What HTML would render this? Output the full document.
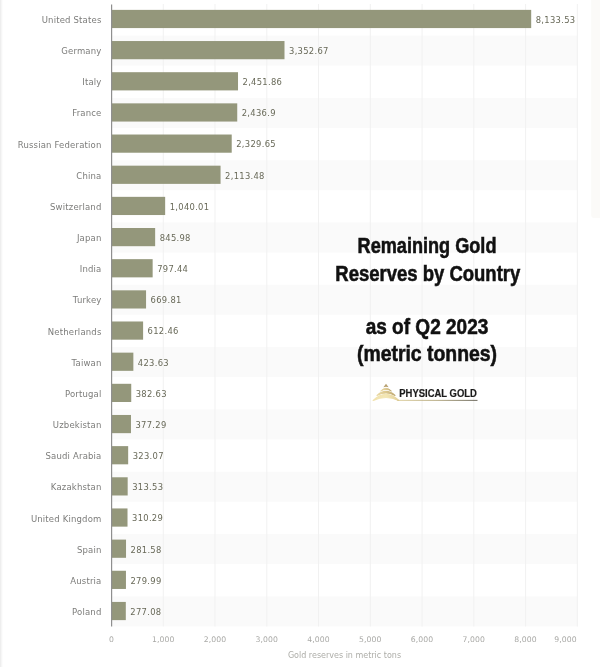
<!DOCTYPE html>
<html lang="en">
<head>
<meta charset="utf-8">
<title>Remaining Gold Reserves by Country</title>
<style>
html,body{margin:0;padding:0;background:#fff;}
body{width:600px;height:667px;overflow:hidden;position:relative;}
svg{display:block;position:absolute;left:0;top:0;}
.cat{font-family:"DejaVu Sans","Liberation Sans",sans-serif;font-size:8.5px;letter-spacing:0.17px;fill:#7c7c7a;text-anchor:end;}
.val{font-family:"DejaVu Sans","Liberation Sans",sans-serif;font-size:8.4px;letter-spacing:0.3px;fill:#686958;}
.tick{font-family:"DejaVu Sans","Liberation Sans",sans-serif;font-size:7.7px;letter-spacing:0.1px;fill:#a9a9a6;text-anchor:middle;}
.axt{font-family:"DejaVu Sans","Liberation Sans",sans-serif;font-size:8px;fill:#adada8;text-anchor:middle;}
.ttl{font-family:"Liberation Sans",sans-serif;font-weight:bold;font-size:21.5px;fill:#111;stroke:#111;stroke-width:0.55px;text-anchor:middle;}
.logo{font-family:"Liberation Sans",sans-serif;font-weight:bold;font-size:10.2px;fill:#1a1a1a;stroke:#1a1a1a;stroke-width:0.2px;}
</style>
</head>
<body>
<svg width="600" height="667" viewBox="0 0 600 667">
<defs>
<linearGradient id="gold" x1="0" y1="0" x2="1" y2="0">
<stop offset="0" stop-color="#f1e2ae"/><stop offset="0.5" stop-color="#f3e6b4"/><stop offset="1" stop-color="#e3d09a"/>
</linearGradient>
<linearGradient id="gold2" x1="0" y1="0" x2="1" y2="0">
<stop offset="0" stop-color="#ead9a4"/><stop offset="0.5" stop-color="#dcc88f"/><stop offset="1" stop-color="#bfa872"/>
</linearGradient>
<linearGradient id="uline" x1="0" y1="0" x2="1" y2="0">
<stop offset="0" stop-color="#d9c88e"/><stop offset="0.5" stop-color="#a89a6a"/><stop offset="1" stop-color="#4a4638"/>
</linearGradient>
</defs>
<rect x="0" y="0" width="600" height="667" fill="#ffffff"/>
<path d="M591.2 0 H600 V218 H594 Q591.2 218 591.2 215 Z" fill="#fbfaf8"/>
<rect x="0" y="0" width="1" height="667" fill="#eeeeee"/>
<rect x="1" y="0" width="1" height="667" fill="#f6f6f6"/>
<rect x="2" y="0" width="1" height="667" fill="#fcfcfc"/>

<rect x="112" y="35.54" width="465.8" height="30" fill="#fafafa"/>
<rect x="112" y="97.86" width="465.8" height="30" fill="#fafafa"/>
<rect x="112" y="160.18" width="465.8" height="30" fill="#fafafa"/>
<rect x="112" y="222.50" width="465.8" height="30" fill="#fafafa"/>
<rect x="112" y="284.82" width="465.8" height="30" fill="#fafafa"/>
<rect x="112" y="347.14" width="465.8" height="30" fill="#fafafa"/>
<rect x="112" y="409.46" width="465.8" height="30" fill="#fafafa"/>
<rect x="112" y="471.78" width="465.8" height="30" fill="#fafafa"/>
<rect x="112" y="534.10" width="465.8" height="30" fill="#fafafa"/>
<rect x="112" y="596.42" width="465.8" height="30" fill="#fafafa"/>
<rect x="162.76" y="4" width="1" height="622.5" fill="#f1f1f1"/>
<rect x="214.52" y="4" width="1" height="622.5" fill="#f1f1f1"/>
<rect x="266.28" y="4" width="1" height="622.5" fill="#f1f1f1"/>
<rect x="318.04" y="4" width="1" height="622.5" fill="#f1f1f1"/>
<rect x="369.80" y="4" width="1" height="622.5" fill="#f1f1f1"/>
<rect x="421.56" y="4" width="1" height="622.5" fill="#f1f1f1"/>
<rect x="473.32" y="4" width="1" height="622.5" fill="#f1f1f1"/>
<rect x="525.08" y="4" width="1" height="622.5" fill="#f1f1f1"/>
<rect x="576.84" y="4" width="1" height="622.5" fill="#f1f1f1"/>
<rect x="112" y="9.88" width="419.19" height="18.2" fill="#94977b"/>
<text class="cat" x="101.5" y="22.98">United States</text>
<text class="val" x="535.69" y="22.78">8,133.53</text>
<rect x="112" y="41.04" width="172.50" height="18.2" fill="#94977b"/>
<text class="cat" x="101.5" y="54.14">Germany</text>
<text class="val" x="289.00" y="53.94">3,352.67</text>
<rect x="112" y="72.20" width="126.02" height="18.2" fill="#94977b"/>
<text class="cat" x="101.5" y="85.30">Italy</text>
<text class="val" x="242.52" y="85.10">2,451.86</text>
<rect x="112" y="103.36" width="125.24" height="18.2" fill="#94977b"/>
<text class="cat" x="101.5" y="116.46">France</text>
<text class="val" x="241.74" y="116.26">2,436.9</text>
<rect x="112" y="134.52" width="119.71" height="18.2" fill="#94977b"/>
<text class="cat" x="101.5" y="147.62">Russian Federation</text>
<text class="val" x="236.21" y="147.42">2,329.65</text>
<rect x="112" y="165.68" width="108.56" height="18.2" fill="#94977b"/>
<text class="cat" x="101.5" y="178.78">China</text>
<text class="val" x="225.06" y="178.58">2,113.48</text>
<rect x="112" y="196.84" width="53.16" height="18.2" fill="#94977b"/>
<text class="cat" x="101.5" y="209.94">Switzerland</text>
<text class="val" x="169.66" y="209.74">1,040.01</text>
<rect x="112" y="228.00" width="43.15" height="18.2" fill="#94977b"/>
<text class="cat" x="101.5" y="241.10">Japan</text>
<text class="val" x="159.65" y="240.90">845.98</text>
<rect x="112" y="259.16" width="40.65" height="18.2" fill="#94977b"/>
<text class="cat" x="101.5" y="272.26">India</text>
<text class="val" x="157.15" y="272.06">797.44</text>
<rect x="112" y="290.32" width="34.06" height="18.2" fill="#94977b"/>
<text class="cat" x="101.5" y="303.42">Turkey</text>
<text class="val" x="150.56" y="303.22">669.81</text>
<rect x="112" y="321.48" width="31.10" height="18.2" fill="#94977b"/>
<text class="cat" x="101.5" y="334.58">Netherlands</text>
<text class="val" x="147.60" y="334.38">612.46</text>
<rect x="112" y="352.64" width="21.36" height="18.2" fill="#94977b"/>
<text class="cat" x="101.5" y="365.74">Taiwan</text>
<text class="val" x="137.86" y="365.54">423.63</text>
<rect x="112" y="383.80" width="19.24" height="18.2" fill="#94977b"/>
<text class="cat" x="101.5" y="396.90">Portugal</text>
<text class="val" x="135.74" y="396.70">382.63</text>
<rect x="112" y="414.96" width="18.97" height="18.2" fill="#94977b"/>
<text class="cat" x="101.5" y="428.06">Uzbekistan</text>
<text class="val" x="135.47" y="427.86">377.29</text>
<rect x="112" y="446.12" width="16.17" height="18.2" fill="#94977b"/>
<text class="cat" x="101.5" y="459.22">Saudi Arabia</text>
<text class="val" x="132.67" y="459.02">323.07</text>
<rect x="112" y="477.28" width="15.68" height="18.2" fill="#94977b"/>
<text class="cat" x="101.5" y="490.38">Kazakhstan</text>
<text class="val" x="132.18" y="490.18">313.53</text>
<rect x="112" y="508.44" width="15.51" height="18.2" fill="#94977b"/>
<text class="cat" x="101.5" y="521.54">United Kingdom</text>
<text class="val" x="132.01" y="521.34">310.29</text>
<rect x="112" y="539.60" width="14.03" height="18.2" fill="#94977b"/>
<text class="cat" x="101.5" y="552.70">Spain</text>
<text class="val" x="130.53" y="552.50">281.58</text>
<rect x="112" y="570.76" width="13.95" height="18.2" fill="#94977b"/>
<text class="cat" x="101.5" y="583.86">Austria</text>
<text class="val" x="130.45" y="583.66">279.99</text>
<rect x="112" y="601.92" width="13.80" height="18.2" fill="#94977b"/>
<text class="cat" x="101.5" y="615.02">Poland</text>
<text class="val" x="130.30" y="614.82">277.08</text>
<rect x="111" y="4.5" width="1.2" height="622" fill="#8f8f8f"/>
<text class="tick" x="111.50" y="642">0</text>
<text class="tick" x="163.26" y="642">1,000</text>
<text class="tick" x="215.02" y="642">2,000</text>
<text class="tick" x="266.78" y="642">3,000</text>
<text class="tick" x="318.54" y="642">4,000</text>
<text class="tick" x="370.30" y="642">5,000</text>
<text class="tick" x="422.06" y="642">6,000</text>
<text class="tick" x="473.82" y="642">7,000</text>
<text class="tick" x="525.58" y="642">8,000</text>
<text class="tick" x="565.50" y="642">9,000</text>
<text class="axt" x="344.5" y="658.4">Gold reserves in metric tons</text>
<text class="ttl" x="0" y="0" transform="translate(427 253) scale(0.843 1)">Remaining Gold</text>
<text class="ttl" x="0" y="0" transform="translate(427.8 280.7) scale(0.861 1)">Reserves by Country</text>
<text class="ttl" x="0" y="0" transform="translate(427 334.4) scale(0.885 1)">as of Q2 2023</text>
<text class="ttl" x="0" y="0" transform="translate(427 361) scale(0.903 1)">(metric tonnes)</text>
<g id="logo">
<path d="M386 383.8 L388.6 387.2 Q386 386.4 383.4 387.2 Z" fill="#b7a070"/>
<path d="M380.6 391 Q386 385.6 391.4 391 Q386 387.9 380.6 391 Z" fill="url(#gold2)" stroke="url(#gold2)" stroke-width="0.9" stroke-linejoin="round"/>
<path d="M377 395.4 Q386 387.4 395 395.4 Q386 390.6 377 395.4 Z" fill="url(#gold2)" stroke="url(#gold2)" stroke-width="1.1" stroke-linejoin="round"/>
<path d="M373.2 400.4 Q386 388.2 398.8 400.4 Q386 394.6 373.2 400.4 Z" fill="url(#gold)" stroke="url(#gold)" stroke-width="1.2" stroke-linejoin="round"/>
<rect x="397" y="399.9" width="80.5" height="0.8" fill="url(#uline)"/>
<text class="logo" x="0" y="0" transform="translate(399.3 396.6) scale(0.927 1)">PHYSICAL GOLD</text>
</g>
</svg>
</body>
</html>
